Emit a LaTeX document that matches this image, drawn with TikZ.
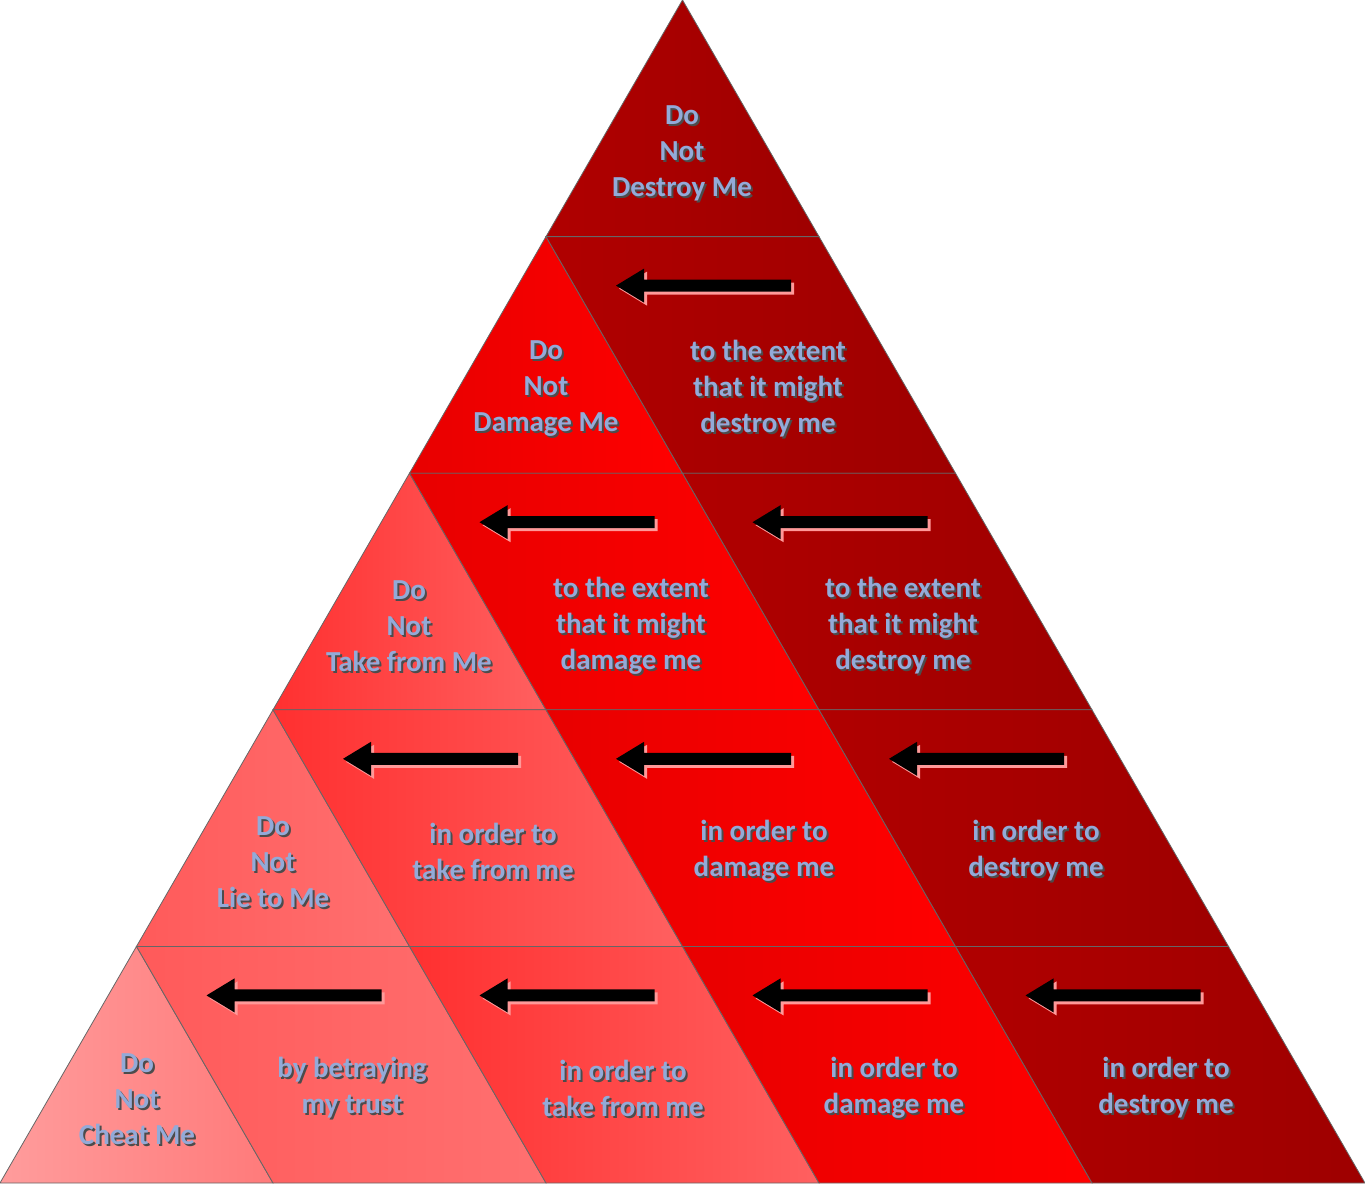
\documentclass[tikz,border=0pt]{standalone}
\usepackage{fontspec}
\setmainfont{Carlito}
\definecolor{txt}{HTML}{93AAD8}
\definecolor{b0l}{HTML}{B00000}\definecolor{b0r}{HTML}{9E0000}
\definecolor{b1l}{HTML}{E80000}\definecolor{b1r}{HTML}{FF0000}
\definecolor{b2l}{HTML}{FF3030}\definecolor{b2r}{HTML}{FF6060}
\definecolor{b3l}{HTML}{FF5A5A}\definecolor{b3r}{HTML}{FF7070}
\definecolor{b4l}{HTML}{FF9C9C}\definecolor{b4r}{HTML}{FF7A7A}
\begin{document}
\begin{tikzpicture}[x=0.5pt,y=-0.5pt,
  lbl/.style={align=center,font=\bfseries\fontsize{14.5}{18}\selectfont,inner sep=0pt},
  edge/.style={draw=black!60,line width=0.4pt}]
\useasboundingbox (0,0) rectangle (1365,1183);
\def\H{236.6}
% shapes
\foreach \r in {0,...,4}{
  \pgfmathsetmacro\A{682.5-136.5*\r}
  \pgfmathsetmacro\rt{\H*\r}
  \pgfmathsetmacro\rb{\H*(\r+1)}
  \pgfmathtruncatemacro\b{\r}
  \shade[left color=b\b l,right color=b\b r,edge] (\A,\rt) -- (\A-136.5,\rb) -- (\A+136.5,\rb) -- cycle;
  \ifnum\r>0
  \foreach \j in {1,...,\r}{
    \pgfmathtruncatemacro\bb{\r-\j}
    \shade[left color=b\bb l,right color=b\bb r,edge] (\A+273*\j-273,\rt) -- (\A+273*\j,\rt) -- (\A+273*\j+136.5,\rb) -- (\A+273*\j-136.5,\rb) -- cycle;
    \coordinate (ar\r\j) at (\A+273*\j-273+70,\rt+49);
    \fill[fill=red!40!white] ([shift={(3,3)}]ar\r\j) -- ++(28,-17) -- ++(0,11) -- ++(147,0) -- ++(0,12) -- ++(-147,0) -- ++(0,11) -- cycle;
    \fill[black] (ar\r\j) -- ++(28,-17) -- ++(0,11) -- ++(147,0) -- ++(0,12) -- ++(-147,0) -- ++(0,11) -- cycle;
  }
  \fi
}
\newcommand\lab[3]{%
  \node[lbl,text=black!70] at ([shift={(2,2)}]#1,#2) {#3};
  \node[lbl,text=txt] (n#1#2) at (#1,#2) {#3};}
\lab{682}{153}{Do\\Not\\Destroy Me}
\lab{546}{389}{Do\\Not\\Damage Me}
\lab{409}{626}{Do\\Not\\Take from Me}
\lab{273}{862}{Do\\Not\\Lie to Me}
\lab{137}{1099}{Do\\Not\\Cheat Me}
\lab{768}{389}{to the extent\\that it might\\destroy me}
\lab{631}{626}{to the extent\\that it might\\damage me}
\lab{903}{626}{to the extent\\that it might\\destroy me}
\lab{493}{851}{in order to\\take from me}
\lab{764}{851}{in order to\\damage me}
\lab{1036}{851}{in order to\\destroy me}
\lab{352}{1088}{by betraying\\my trust}
\lab{623}{1088}{in order to\\take from me}
\lab{894}{1088}{in order to\\damage me}
\lab{1166}{1088}{in order to\\destroy me}
\end{tikzpicture}
\end{document}
